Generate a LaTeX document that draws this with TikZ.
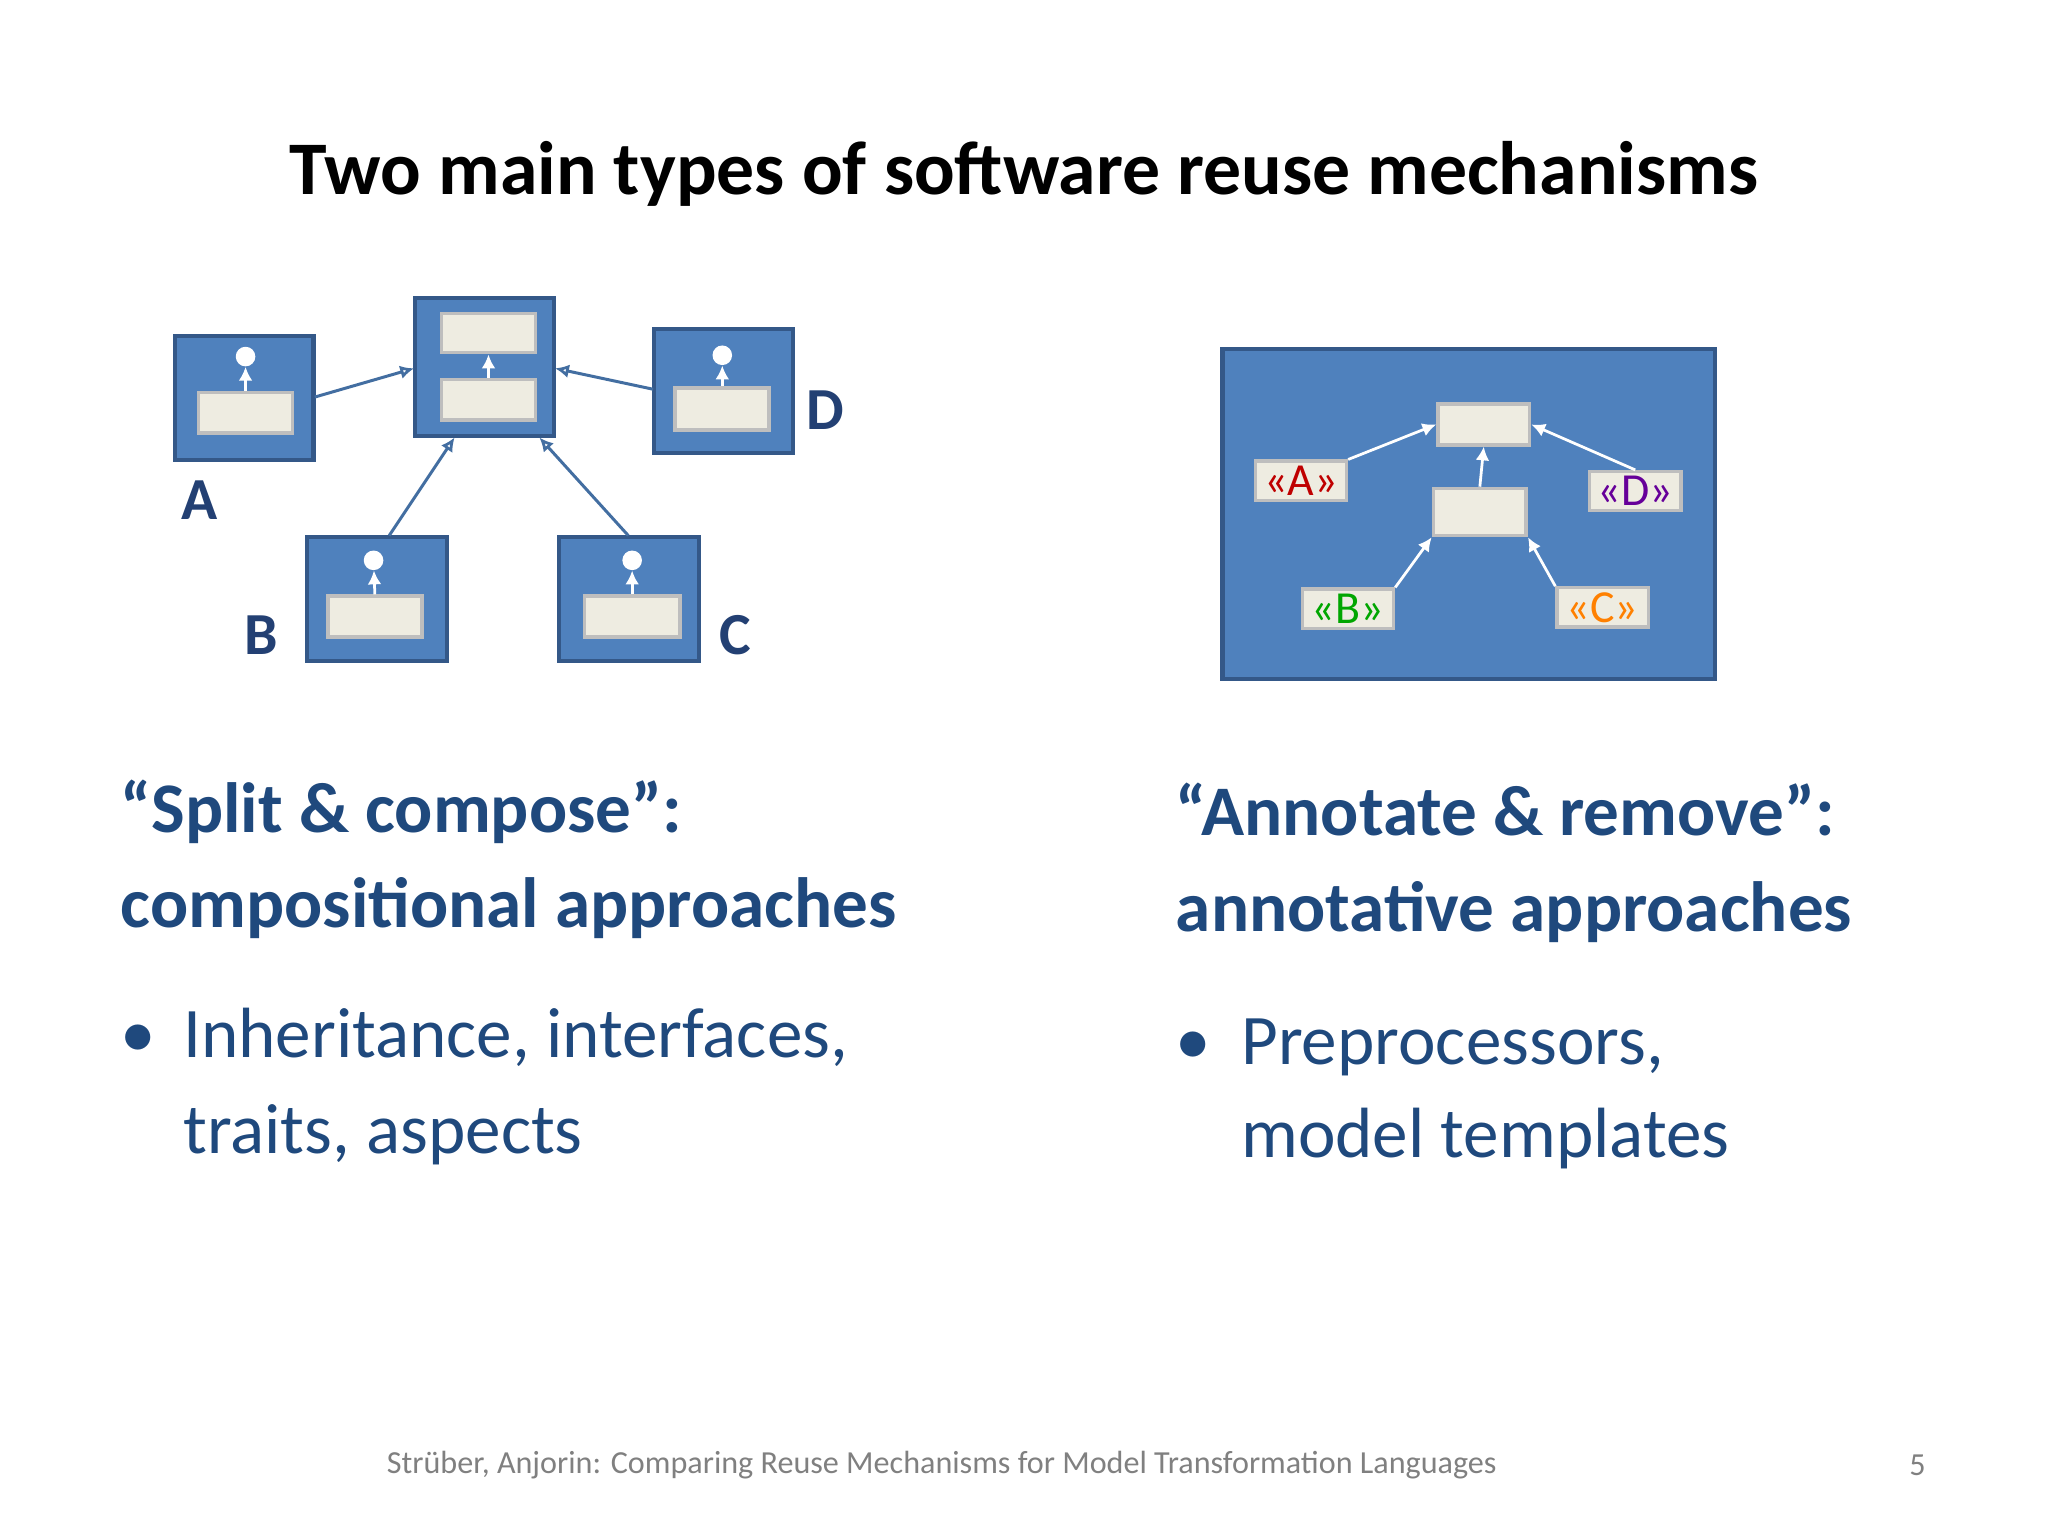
\documentclass[tikz,border=0pt]{standalone}
\usepackage{fontspec}
\setmainfont{Carlito}
\usetikzlibrary{arrows.meta}
\definecolor{bfill}{RGB}{79,129,189}
\definecolor{bdraw}{RGB}{52,88,136}
\definecolor{ifill}{RGB}{238,236,225}
\definecolor{idraw}{RGB}{190,190,190}
\definecolor{ttl}{RGB}{31,73,125}
\definecolor{lbl}{RGB}{35,64,115}
\begin{document}
\begin{tikzpicture}[x=0.02cm,y=-0.02cm,
 blk/.style={fill=bfill,draw=bdraw,line width=1.8pt},
 inr/.style={fill=ifill,draw=idraw,line width=1.6pt},
 dot/.style={circle,fill=white,inner sep=0pt,minimum size=0.3cm},
 con/.style={draw=bfill!85!black,line width=1.3pt,-{Latex[open,length=6pt,width=6pt]}},
 wcon/.style={draw=white,line width=1.2pt,-{Latex[length=6pt,width=6pt]}},
 ltr/.style={font=\bfseries\fontsize{26}{30}\selectfont,text=lbl},
 hd/.style={anchor=base west,font=\bfseries\fontsize{31}{36}\selectfont,text=ttl,inner sep=0},
 bt/.style={anchor=base west,font=\fontsize{31}{36}\selectfont,text=ttl,inner sep=0},
 tag/.style={fill=ifill,draw=idraw,line width=1.4pt,inner sep=1pt,minimum width=1.4cm,minimum height=0.6cm,font=\fontsize{20}{22}\selectfont}]
\useasboundingbox (0,0) rectangle (1568,1176);
\node[font=\bfseries\fontsize{33}{38}\selectfont] (title) at (784,133) {Two main types of software reuse mechanisms};
% left diagram
\draw[blk] (134,257) rectangle (240,352); \coordinate (A) at (187,304);
\draw[blk] (318,228) rectangle (424,334);
\draw[blk] (501,252) rectangle (607,347);
\draw[blk] (235,411) rectangle (342,506);
\draw[blk] (428,411) rectangle (535,506);
\node[inr,minimum width=1.44cm,minimum height=0.62cm] (ia) at (188,316) {};
\node[inr,minimum width=1.44cm,minimum height=0.6cm] (iz1) at (374,255) {};
\node[inr,minimum width=1.44cm,minimum height=0.62cm] (iz2) at (374,306) {};
\node[inr,minimum width=1.44cm,minimum height=0.64cm] (id) at (553,313) {};
\node[inr,minimum width=1.44cm,minimum height=0.62cm] (ib) at (287,472) {};
\node[inr,minimum width=1.46cm,minimum height=0.62cm] (ic) at (484,472) {};
\node[dot] (ca) at (188,273) {};
\node[dot] (cd) at (553,272) {};
\node[dot] (cb) at (286,429) {};
\node[dot] (cc) at (484,429) {};
\draw[wcon] (ia.north) -- (ca);
\draw[wcon] (id.north) -- (cd);
\draw[wcon] (ib.north) -- (cb);
\draw[wcon] (ic.north) -- (cc);
\draw[wcon] (iz2.north) -- (iz1.south);
\coordinate (aR) at (241,304); \coordinate (zL) at (317,282);
\coordinate (dL) at (500,298); \coordinate (zR) at (425,282);
\coordinate (bT) at (298,410); \coordinate (zB1) at (348,335);
\coordinate (cT) at (481,410); \coordinate (zB2) at (413,335);
\draw[con] (aR) -- (zL);
\draw[con] (dL) -- (zR);
\draw[con] (bT) -- (zB1);
\draw[con] (cT) -- (zB2);
\node[ltr] (la) at (153,383) {A};
\node[ltr] (ld) at (632,314) {D};
\node[ltr] (lb) at (200,486) {B};
\node[ltr] (lc) at (563,486) {C};
% right diagram
\draw[blk] (936,267) rectangle (1313,520);
\node[inr,minimum width=1.4cm,minimum height=0.62cm] (rt) at (1136,325) {};
\node[inr,minimum width=1.42cm,minimum height=0.72cm] (rm) at (1133,392) {};
\node[tag,text=red!75!black] (tA) at (996,368) {«A»};
\node[tag,text=violet!80!blue] (tD) at (1252,376) {«D»};
\node[tag,text=green!65!black] (tB) at (1032,466) {«B»};
\node[tag,text=orange] (tC) at (1227,465) {«C»};
\draw[wcon] (tA.north east) -- (rt.west);
\draw[wcon] (tD.north) -- (rt.east);
\draw[wcon] (rm.north) -- (rt.south);
\draw[wcon] (tB.north east) -- (rm.south west);
\draw[wcon] (tC.north west) -- (rm.south east);
% text
\node[hd] (h1) at (92,637) {“Split \& compose”:};
\node[hd] (h2) at (92,710) {compositional approaches};
\node[bt] (b1) at (92,810) {•};
\node[bt] (t1) at (140,810) {Inheritance, interfaces,};
\node[bt] (t2) at (140,883) {traits, aspects};
\node[hd] (h3) at (900,640) {“Annotate \& remove”:};
\node[hd] (h4) at (900,713) {annotative approaches};
\node[bt] (b2) at (900,815) {•};
\node[bt] (t3) at (950,815) {Preprocessors,};
\node[bt] (t4) at (950,886) {model templates};
\node[text=gray,font=\fontsize{14}{16}\selectfont] (ft) at (721,1122) {Strüber, Anjorin: Comparing Reuse Mechanisms for Model Transformation Languages};
\node[text=gray,font=\fontsize{14}{16}\selectfont] (pg) at (1468,1122) {5};
\end{tikzpicture}
\end{document}
